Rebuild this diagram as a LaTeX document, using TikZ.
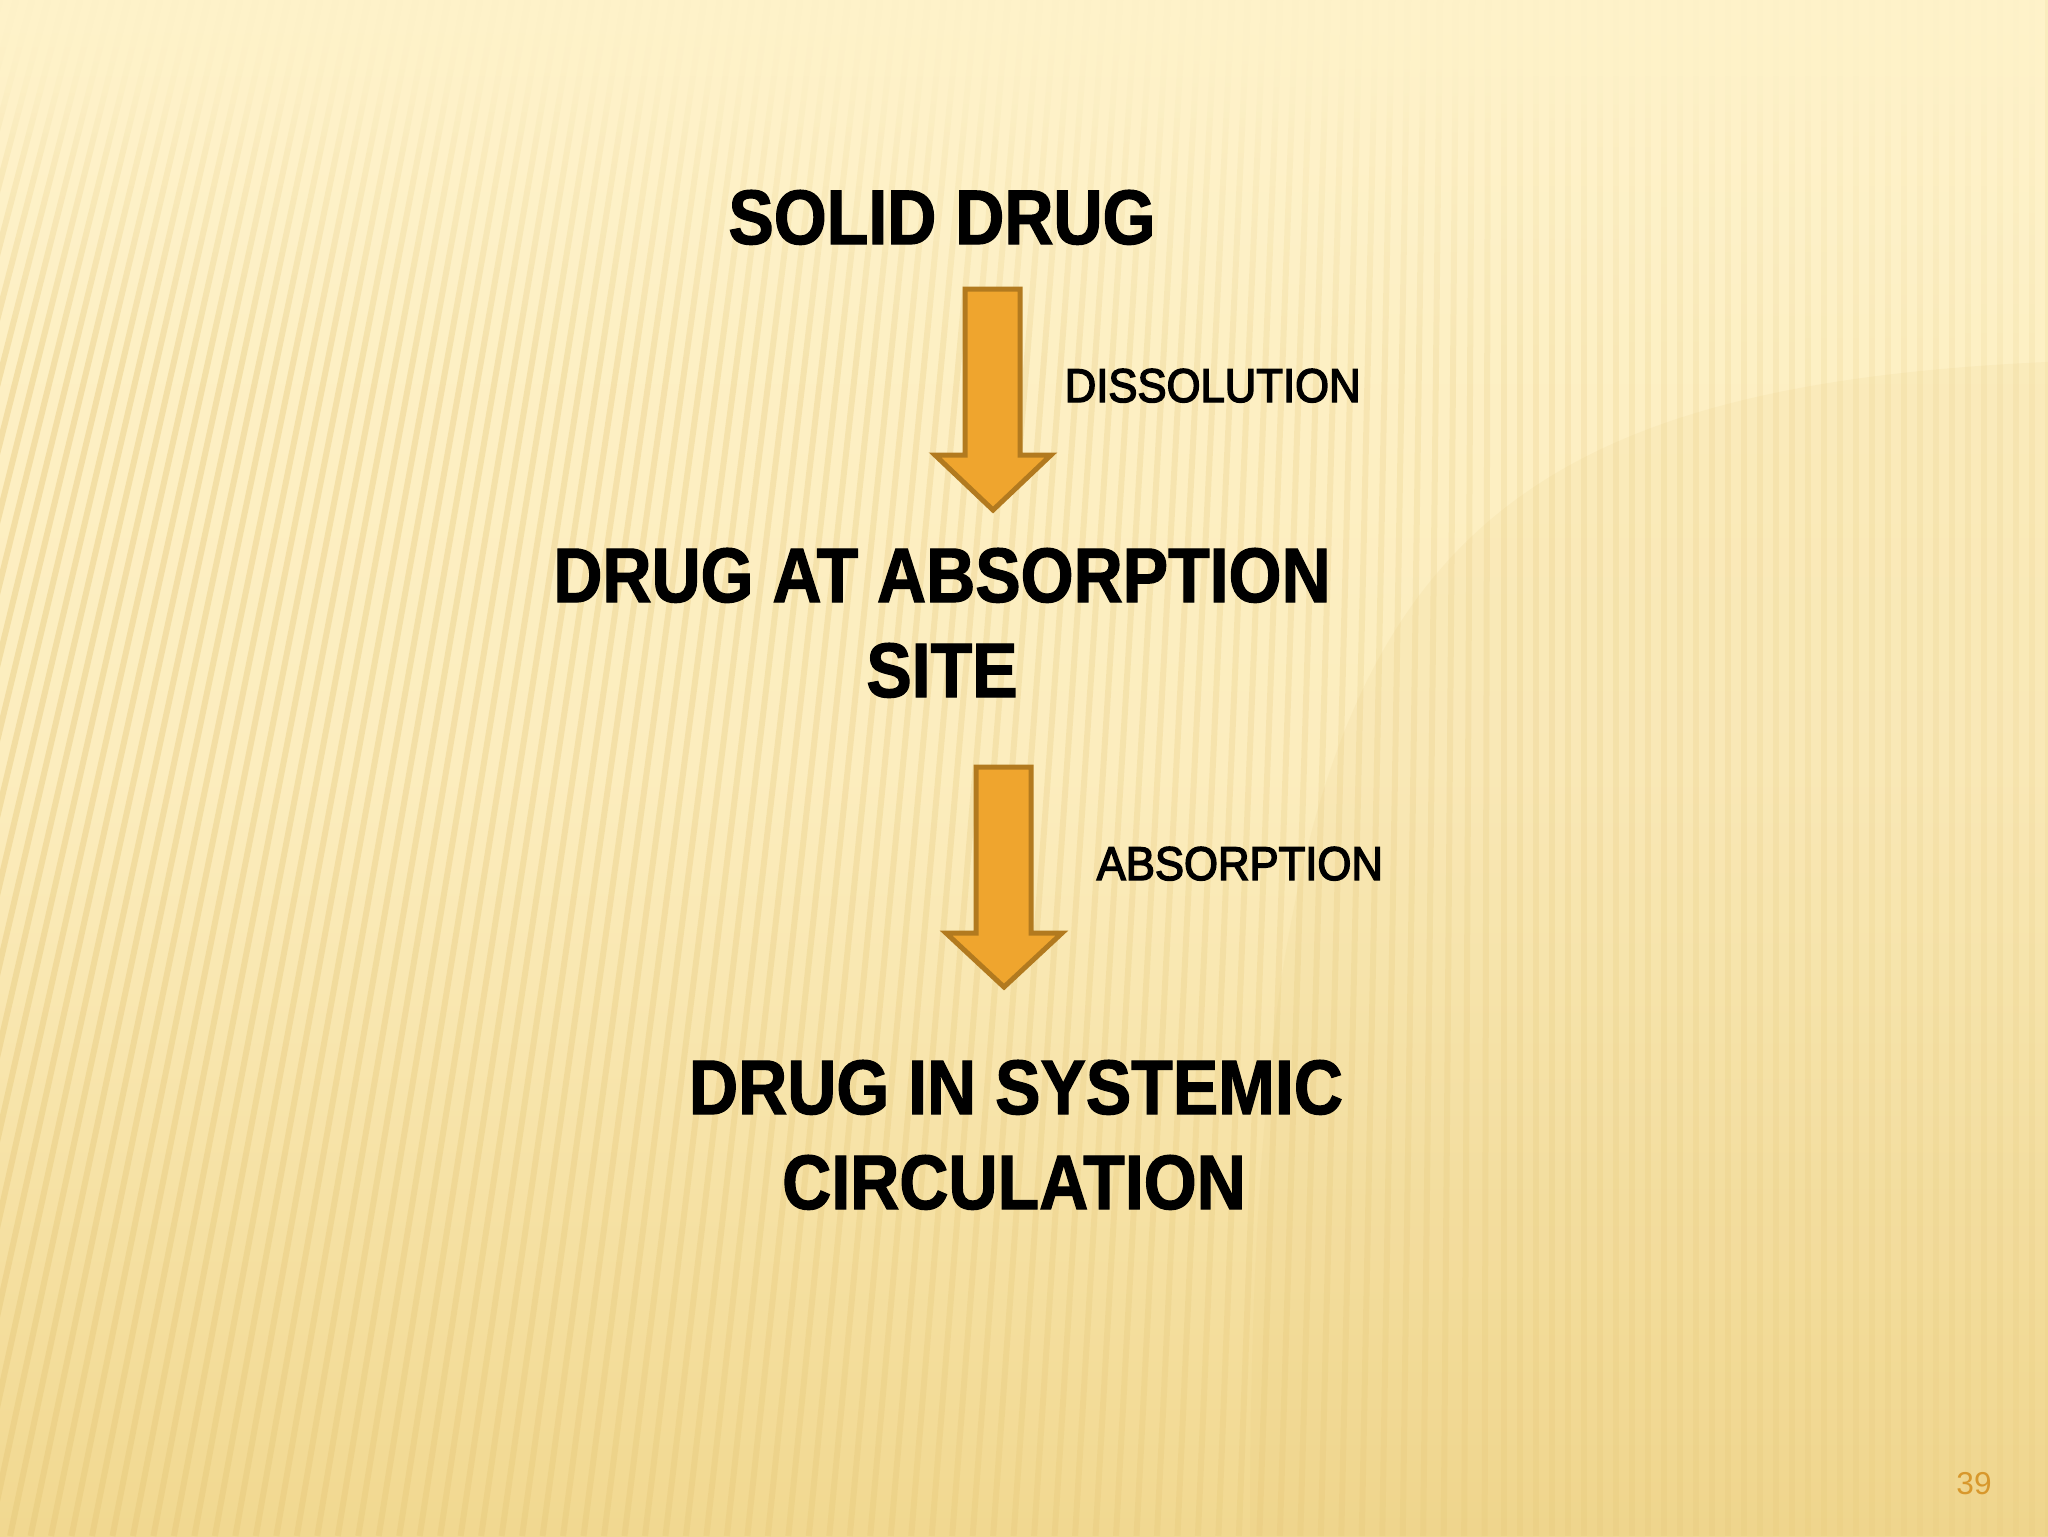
\documentclass[tikz,border=0pt]{standalone}
\usepackage{fontspec}
\usetikzlibrary{fadings}
\newfontfamily\headfont{Liberation Sans}[FakeStretch=0.88,FakeBold=1.5]
\newfontfamily\labfont{Liberation Sans}[FakeStretch=0.92,FakeBold=3]
\newfontfamily\numfont{Liberation Sans}
\definecolor{bgtop}{HTML}{FEF2C9}
\definecolor{bgmid}{HTML}{FCEDBE}
\definecolor{bgbot}{HTML}{F1D890}
\definecolor{stripecol}{HTML}{E2C271}
\definecolor{arrowfill}{HTML}{EFA52E}
\definecolor{arrowline}{HTML}{B27A1F}
\definecolor{numcol}{HTML}{D8982C}
\tikzfading[name=fadedown, top color=transparent!0, bottom color=transparent!100]
\tikzset{
  head/.style={font=\headfont\bfseries\fontsize{22}{26}\selectfont, text=black, inner sep=0pt, anchor=base},
  lab/.style={font=\labfont\fontsize{13.5}{16}\selectfont, text=black, inner sep=0pt, anchor=base west},
  blockarrow/.style={fill=arrowfill, draw=arrowline, line width=0.5mm, line join=miter},
  stripe/.style={draw=stripecol, line width=0.6mm}
}
\begin{document}
\begin{tikzpicture}[x=0.1mm, y=-0.1mm]
\useasboundingbox (0,0) rectangle (2048,1536);
% background
\begin{scope}
  \clip (0,0) rectangle (2048,1536);
  \shade[top color=bgtop, bottom color=bgbot, middle color=bgmid] (0,0) rectangle (2048,1536);
  \fill[stripecol, opacity=0.10] (1250,1536) .. controls (1250,600) and (1400,380) .. (2100,360) -- (2100,1536) -- cycle;
  \foreach \i in {-40,...,135} {
    \pgfmathsetmacro\xt{\i*16}
    \pgfmathsetmacro\off{max(0,1-\xt/1500)*420}
    \pgfmathsetmacro\op{max(0.12,0.38-max(0,\xt)/2048*0.26)}
    \draw[stripe, opacity=\op] (\xt,0) -- (\xt-\off,1536);
  }
  \fill[bgtop, path fading=fadedown] (0,-10) rectangle (2048,380);
  \fill[bgtop, path fading=fadedown] (0,-10) rectangle (2048,160);
\end{scope}

% texts
\node[head] (solid) at (942,244) {SOLID DRUG};
\node[head] (site1) at (942,602) {DRUG AT ABSORPTION};
\node[head] (site2) at (942,697) {SITE};
\node[head] (sys1) at (1016,1114) {DRUG IN SYSTEMIC};
\node[head] (sys2) at (1014,1209) {CIRCULATION};
\node[lab] (dissol) at (1064,402) {DISSOLUTION};
\node[lab] (absorb) at (1096,880) {ABSORPTION};
\node[font=\numfont\fontsize{9}{11}\selectfont, text=numcol, inner sep=0pt, anchor=base] (page) at (1974,1494) {39};

% block arrows
\coordinate (a1tip) at (993,510);
\draw[blockarrow] (965,289) -- (1020,289) -- (1020,455) -- (1051,455) -- (a1tip) -- (935,455) -- (965,455) -- cycle;
\coordinate (a2tip) at (1004,987);
\draw[blockarrow] (976,767) -- (1031,767) -- (1031,933) -- (1062,933) -- (a2tip) -- (946,933) -- (976,933) -- cycle;
\end{tikzpicture}
\end{document}
